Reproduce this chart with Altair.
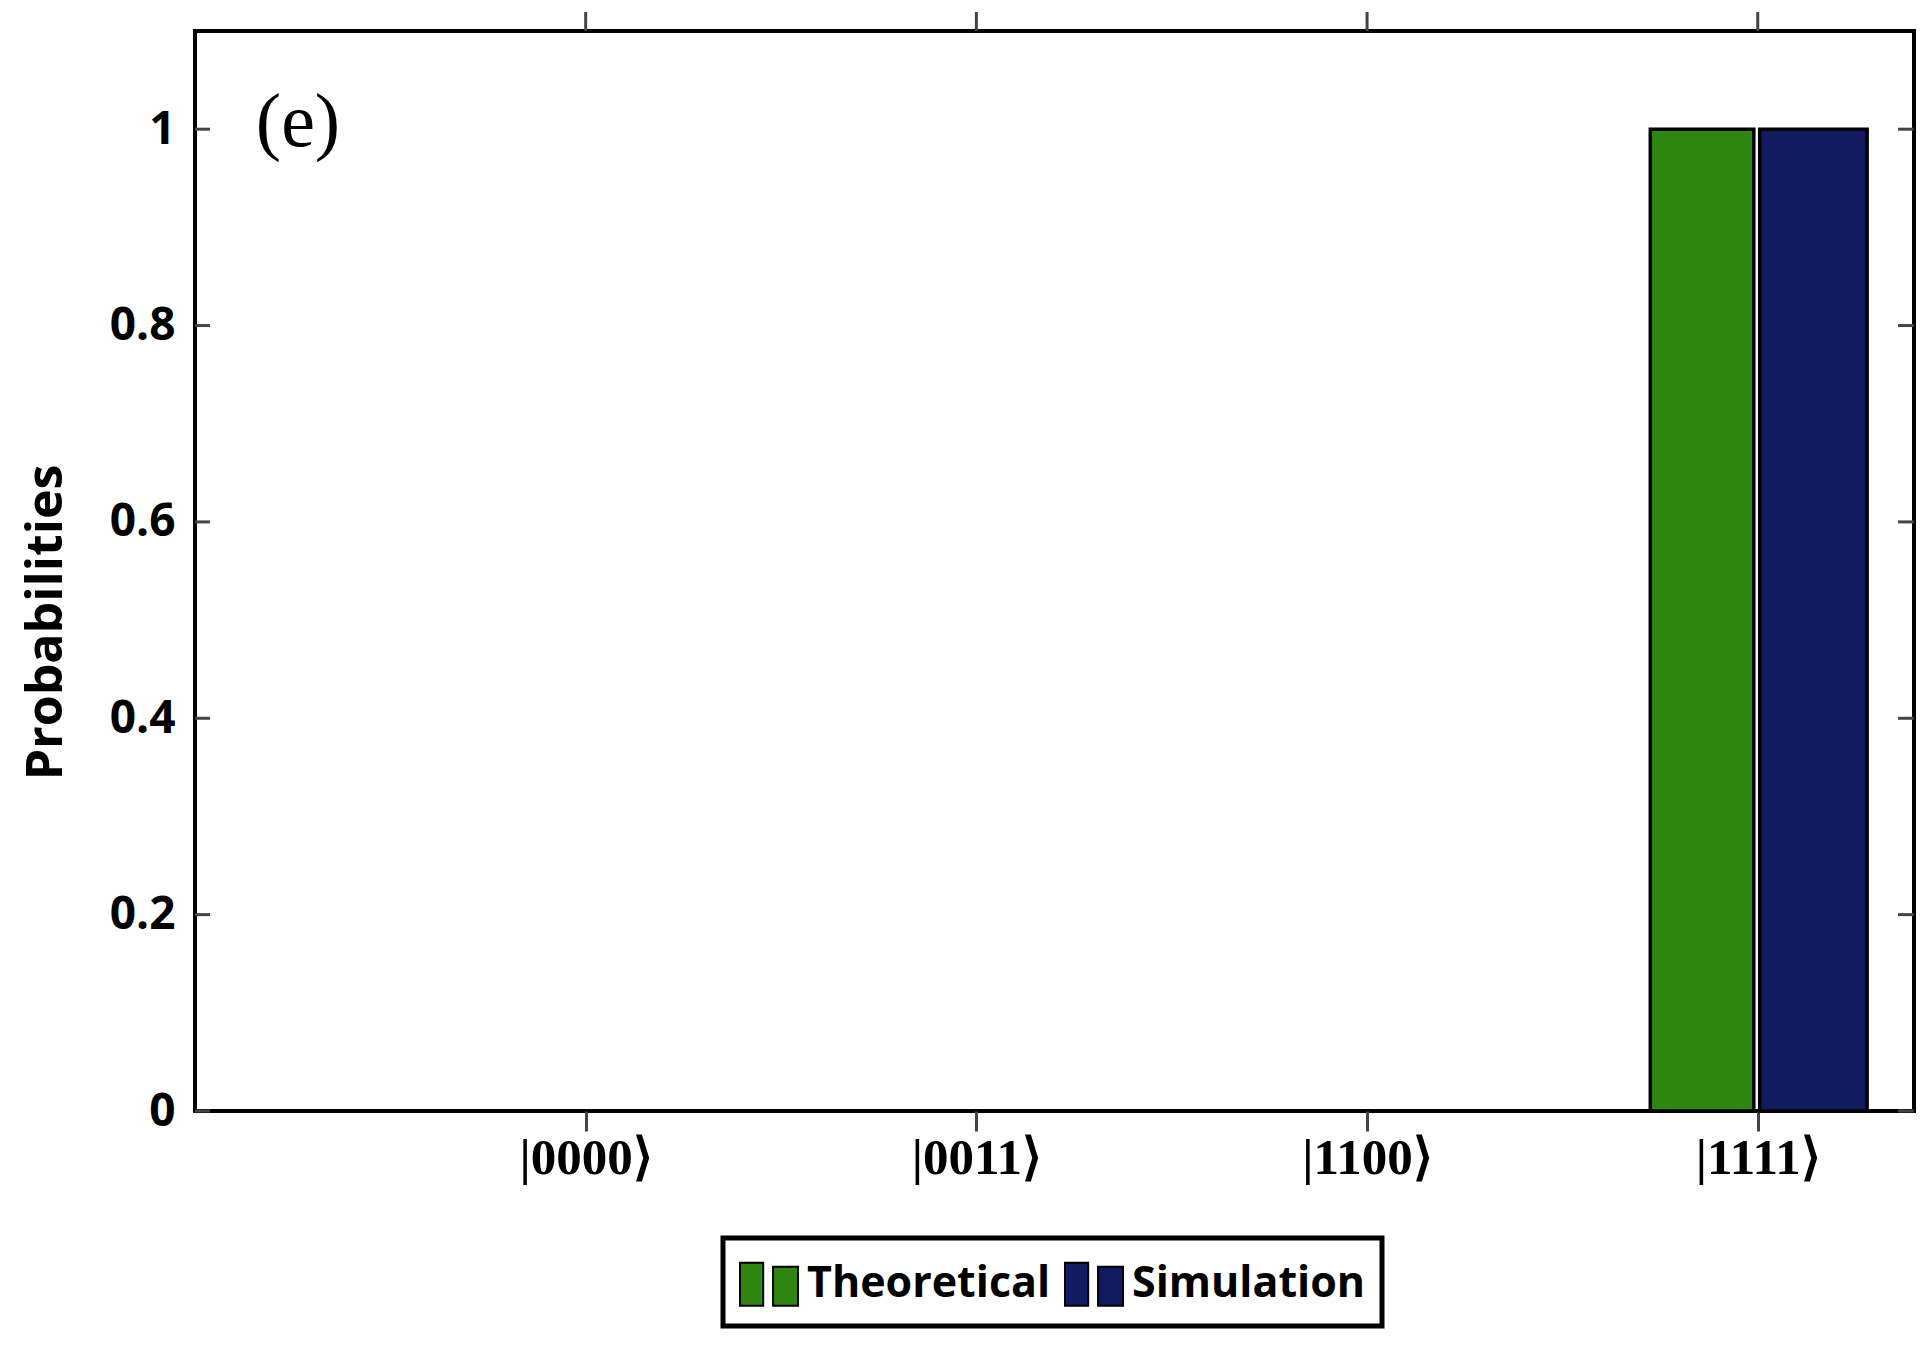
import json
import pandas as pd
import altair as alt

# values
states = ["|0000⟩", "|0011⟩", "|1100⟩", "|1111⟩"]
theoretical = [0, 0, 0, 1]
simulation = [0, 0, 0, 1]
y_ticks = [0, 0.2, 0.4, 0.6, 0.8, 1]

green = "#2f8712"
navy = "#121a62"

W, H = 1719, 1080

rows = []
for i, s in enumerate(states):
    rows.append({"idx": i, "state": s, "series": "Theoretical", "value": theoretical[i],
                 "x0": i - 0.275, "x1": i - 0.01})
    rows.append({"idx": i, "state": s, "series": "Simulation", "value": simulation[i],
                 "x0": i + 0.005, "x1": i + 0.28})
df = pd.DataFrame(rows)

xscale = alt.Scale(domain=[-1, 3.4], nice=False, zero=False)
yscale = alt.Scale(domain=[0, 1.1], nice=False)

# two little bars as the legend symbol
pair = "M-1,-0.74H-0.2V0.74H-1Z M0.14,-0.6H1V0.74H0.14Z"

bars = alt.Chart(df).mark_bar(stroke="black", strokeWidth=3.5).encode(
    x=alt.X("x0:Q", scale=xscale, axis=alt.Axis(
        values=list(range(len(states))),
        labelExpr=json.dumps(states, ensure_ascii=False) + "[datum.value]",
        labelFont="Liberation Serif", labelFontWeight="bold", labelFontSize=51,
        labelColor="black", tickSize=20, tickWidth=3, tickColor="#444",
        labelPadding=2, domain=False, grid=False, title=None)),
    x2="x1:Q",
    y=alt.Y("value:Q", scale=yscale, axis=alt.Axis(
        values=y_ticks, format="~g", ticks=False, domain=False, grid=False,
        labelFont="Open Sans", labelFontWeight="bold", labelFontSize=46,
        labelColor="black", labelPadding=20,
        title="Probabilities", titleFont="Open Sans", titleFontWeight="bold",
        titleFontSize=50, titleColor="black", titleX=-149, titleY=591,
        titleBaseline="middle", titleAlign="center")),
    y2=alt.datum(0),
    color=alt.Color("series:N",
                    scale=alt.Scale(domain=["Theoretical", "Simulation"], range=[green, navy]),
                    legend=alt.Legend(
                        title=None, orient="none", legendX=528, legendY=1207,
                        direction="horizontal", symbolType=pair, symbolSize=3364,
                        symbolStrokeColor="black", symbolStrokeWidth=2, symbolOpacity=1,
                        labelFont="Open Sans", labelFontWeight="bold", labelFontSize=43,
                        labelColor="black", labelOffset=8, labelLimit=500,
                        columnPadding=10, padding=16, strokeColor="black",
                        fillColor="white")),
)

xt = pd.DataFrame({"x": list(range(len(states)))})
yt = pd.DataFrame({"y": y_ticks})

top_ticks = alt.Chart(xt).mark_rule(color="#444", strokeWidth=3).encode(
    x=alt.X("x:Q", scale=xscale), y=alt.value(-19), y2=alt.value(0))
left_ticks = alt.Chart(yt).mark_rule(color="#444", strokeWidth=3).encode(
    y=alt.Y("y:Q", scale=yscale), x=alt.value(0), x2=alt.value(15))
right_ticks = alt.Chart(yt).mark_rule(color="#444", strokeWidth=3).encode(
    y=alt.Y("y:Q", scale=yscale), x=alt.value(W - 16), x2=alt.value(W))

panel = alt.Chart(pd.DataFrame({"t": ["(e)"]})).mark_text(
    font="Liberation Serif", fontSize=76, color="black", align="center", baseline="middle"
).encode(text="t:N", x=alt.value(103), y=alt.value(92))

chart = alt.layer(bars, top_ticks, left_ticks, right_ticks, panel).properties(
    width=W, height=H,
    autosize=alt.AutoSizeParams(type="none"),
    padding={"left": 187, "top": 23, "right": 4, "bottom": 222},
).configure_view(stroke="black", strokeWidth=4).configure_axis(
    labelOverlap=False
).configure_legend(strokeWidth=5)

chart.save("out.html", embed_options={"renderer": "svg", "actions": False})
